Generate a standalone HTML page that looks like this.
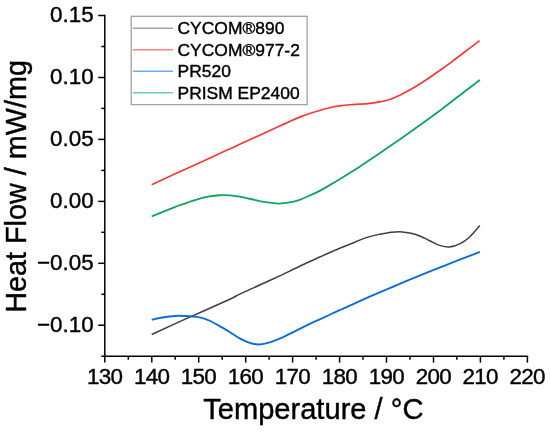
<!DOCTYPE html>
<html><head><meta charset="utf-8"><title>Heat Flow vs Temperature</title>
<style>
html,body{margin:0;padding:0;background:#fff;}
body{width:550px;height:432px;overflow:hidden;}
svg{display:block;}
text{font-family:"Liberation Sans",sans-serif;fill:#000;stroke:#000;stroke-width:0.4px;stroke-linejoin:round;}
.tl{font-size:22.4px;}
.xl{letter-spacing:-0.7px;}
.at{font-size:29.3px;}
.lg{font-size:17.2px;}
</style></head><body>
<svg width="550" height="432" viewBox="0 0 550 432">
<rect width="550" height="432" fill="#fff"/>
<g fill="none" stroke-linecap="butt" stroke-linejoin="round" transform="translate(-0.3,0.35)">
<path d="M152.0,334.1C158.3,331.2 177.2,322.6 190.0,316.8C202.8,311.1 220.2,303.4 228.5,299.6C236.8,295.8 234.8,296.3 240.0,293.8C245.2,291.3 253.3,287.8 260.0,284.7C266.7,281.6 273.3,278.6 280.0,275.5C286.7,272.4 293.3,269.0 300.0,265.9C306.7,262.8 313.3,259.7 320.0,256.7C326.7,253.7 335.0,250.0 340.0,247.9C345.0,245.8 346.7,245.2 350.0,243.9C353.3,242.6 356.7,241.1 360.0,239.8C363.3,238.5 366.7,237.3 370.0,236.3C373.3,235.3 376.7,234.6 380.0,233.9C383.3,233.2 386.7,232.5 390.0,232.1C393.3,231.7 396.7,231.2 400.0,231.3C403.3,231.4 406.7,232.0 410.0,232.7C413.3,233.4 416.7,234.3 420.0,235.6C423.3,236.9 426.7,238.8 430.0,240.4C433.3,242.0 436.7,244.0 440.0,245.0C443.3,246.0 446.3,246.8 449.6,246.6C452.9,246.4 456.6,245.3 460.0,243.6C463.4,241.9 466.6,239.7 470.0,236.6C473.4,233.5 478.5,227.1 480.2,225.2" stroke="#3f3f3f" stroke-width="1.5"/>
<path d="M152.0,184.3C158.3,181.4 177.5,172.6 190.0,166.9C202.5,161.2 218.7,153.8 227.0,150.0C235.3,146.2 234.5,146.4 240.0,143.9C245.5,141.4 253.3,137.8 260.0,134.8C266.7,131.8 275.0,128.0 280.0,125.7C285.0,123.4 286.7,122.7 290.0,121.2C293.3,119.7 296.7,118.2 300.0,116.8C303.3,115.4 306.7,114.2 310.0,113.1C313.3,112.0 316.7,111.0 320.0,110.1C323.3,109.1 326.7,108.2 330.0,107.4C333.3,106.7 336.7,106.1 340.0,105.6C343.3,105.1 346.7,104.7 350.0,104.4C353.3,104.1 356.7,104.0 360.0,103.8C363.3,103.6 366.7,103.4 370.0,103.0C373.3,102.6 376.7,102.2 380.0,101.5C383.3,100.8 386.7,100.2 390.0,99.1C393.3,98.0 396.7,96.4 400.0,94.8C403.3,93.2 406.7,91.5 410.0,89.7C413.3,87.9 416.7,85.8 420.0,83.7C423.3,81.6 426.7,79.5 430.0,77.2C433.3,74.9 436.7,72.5 440.0,70.1C443.3,67.7 446.7,65.5 450.0,63.0C453.3,60.5 456.7,57.9 460.0,55.4C463.3,52.9 466.7,50.3 470.0,47.8C473.3,45.3 478.2,41.5 479.9,40.2" stroke="#F23A3A" stroke-width="1.7"/>
<path d="M152.0,319.5C153.3,319.2 157.0,318.2 160.0,317.6C163.0,317.0 166.7,316.5 170.0,316.1C173.3,315.7 176.7,315.4 180.0,315.4C183.3,315.4 186.7,315.6 190.0,315.9C193.3,316.2 196.7,316.2 200.0,317.0C203.3,317.8 206.7,318.9 210.0,320.4C213.3,321.9 216.7,323.9 220.0,325.8C223.3,327.7 226.7,329.6 230.0,331.7C233.3,333.8 236.7,336.3 240.0,338.1C243.3,339.9 246.8,341.6 250.0,342.6C253.2,343.6 256.2,344.2 259.5,344.1C262.8,344.0 266.6,343.1 270.0,342.1C273.4,341.1 276.7,339.7 280.0,338.3C283.3,336.9 286.7,335.1 290.0,333.5C293.3,331.9 296.7,330.1 300.0,328.5C303.3,326.9 306.7,325.2 310.0,323.6C313.3,322.0 316.7,320.5 320.0,319.0C323.3,317.5 326.7,315.9 330.0,314.4C333.3,312.9 336.7,311.3 340.0,309.8C343.3,308.3 345.0,307.6 350.0,305.3C355.0,303.1 363.3,299.2 370.0,296.3C376.7,293.4 383.3,290.6 390.0,287.8C396.7,285.0 400.8,283.1 410.0,279.3C419.2,275.5 433.3,269.8 445.0,265.2C456.7,260.6 474.3,253.9 480.2,251.6" stroke="#0B6DD8" stroke-width="1.9"/>
<path d="M152.0,216.1C154.2,215.2 161.2,212.3 165.0,210.7C168.8,209.1 171.7,207.9 175.0,206.7C178.3,205.4 182.5,204.1 185.0,203.2C187.5,202.3 187.5,202.2 190.0,201.4C192.5,200.6 196.7,199.1 200.0,198.2C203.3,197.3 206.7,196.6 210.0,196.0C213.3,195.4 216.7,195.1 220.0,194.9C223.3,194.8 226.7,194.9 230.0,195.1C233.3,195.3 236.7,195.8 240.0,196.3C243.3,196.9 246.7,197.7 250.0,198.4C253.3,199.1 256.7,200.0 260.0,200.7C263.3,201.3 266.8,201.9 270.0,202.3C273.2,202.7 275.7,203.2 279.0,203.2C282.3,203.1 286.5,202.6 290.0,202.0C293.5,201.4 296.7,200.6 300.0,199.5C303.3,198.4 306.7,196.7 310.0,195.2C313.3,193.7 316.7,192.2 320.0,190.5C323.3,188.8 326.7,186.7 330.0,184.8C333.3,182.9 336.7,180.9 340.0,178.9C343.3,176.9 346.7,174.8 350.0,172.7C353.3,170.6 355.0,169.7 360.0,166.4C365.0,163.1 373.3,157.3 380.0,152.8C386.7,148.3 393.3,143.8 400.0,139.2C406.7,134.5 413.3,129.7 420.0,124.9C426.7,120.1 432.9,115.7 440.0,110.4C447.1,105.1 456.1,98.0 462.8,92.9C469.5,87.8 477.3,81.8 480.2,79.6" stroke="#12A35F" stroke-width="1.8"/>
</g>
<g stroke="#000" stroke-width="1.5" fill="none">
<line x1="104.8" y1="14.7" x2="104.8" y2="357.0"/>
<line x1="104.0" y1="356.2" x2="528.15" y2="356.2"/>
<line x1="104.8" y1="356.2" x2="104.8" y2="362.59999999999997"/>
<line x1="128.3" y1="356.2" x2="128.3" y2="359.7"/>
<line x1="151.8" y1="356.2" x2="151.8" y2="362.59999999999997"/>
<line x1="175.2" y1="356.2" x2="175.2" y2="359.7"/>
<line x1="198.7" y1="356.2" x2="198.7" y2="362.59999999999997"/>
<line x1="222.2" y1="356.2" x2="222.2" y2="359.7"/>
<line x1="245.7" y1="356.2" x2="245.7" y2="362.59999999999997"/>
<line x1="269.1" y1="356.2" x2="269.1" y2="359.7"/>
<line x1="292.6" y1="356.2" x2="292.6" y2="362.59999999999997"/>
<line x1="316.1" y1="356.2" x2="316.1" y2="359.7"/>
<line x1="339.6" y1="356.2" x2="339.6" y2="362.59999999999997"/>
<line x1="363.0" y1="356.2" x2="363.0" y2="359.7"/>
<line x1="386.5" y1="356.2" x2="386.5" y2="362.59999999999997"/>
<line x1="410.0" y1="356.2" x2="410.0" y2="359.7"/>
<line x1="433.5" y1="356.2" x2="433.5" y2="362.59999999999997"/>
<line x1="456.9" y1="356.2" x2="456.9" y2="359.7"/>
<line x1="480.4" y1="356.2" x2="480.4" y2="362.59999999999997"/>
<line x1="503.9" y1="356.2" x2="503.9" y2="359.7"/>
<line x1="527.4" y1="356.2" x2="527.4" y2="362.59999999999997"/>
<line x1="98.2" y1="15.5" x2="104.8" y2="15.5"/>
<line x1="101.3" y1="46.5" x2="104.8" y2="46.5"/>
<line x1="98.2" y1="77.5" x2="104.8" y2="77.5"/>
<line x1="101.3" y1="108.4" x2="104.8" y2="108.4"/>
<line x1="98.2" y1="139.4" x2="104.8" y2="139.4"/>
<line x1="101.3" y1="170.4" x2="104.8" y2="170.4"/>
<line x1="98.2" y1="201.4" x2="104.8" y2="201.4"/>
<line x1="101.3" y1="232.3" x2="104.8" y2="232.3"/>
<line x1="98.2" y1="263.3" x2="104.8" y2="263.3"/>
<line x1="101.3" y1="294.3" x2="104.8" y2="294.3"/>
<line x1="98.2" y1="325.2" x2="104.8" y2="325.2"/>
<line x1="101.3" y1="356.2" x2="104.8" y2="356.2"/>
</g>
<text class="tl" x="93.6" y="22.3" text-anchor="end">0.15</text>
<text class="tl" x="93.6" y="84.2" text-anchor="end">0.10</text>
<text class="tl" x="93.6" y="146.2" text-anchor="end">0.05</text>
<text class="tl" x="93.6" y="208.2" text-anchor="end">0.00</text>
<text class="tl" x="93.6" y="270.1" text-anchor="end">−0.05</text>
<text class="tl" x="93.6" y="332.1" text-anchor="end">−0.10</text>
<text class="tl xl" x="104.6" y="384.1" text-anchor="middle">130</text>
<text class="tl xl" x="151.6" y="384.1" text-anchor="middle">140</text>
<text class="tl xl" x="198.5" y="384.1" text-anchor="middle">150</text>
<text class="tl xl" x="245.5" y="384.1" text-anchor="middle">160</text>
<text class="tl xl" x="292.4" y="384.1" text-anchor="middle">170</text>
<text class="tl xl" x="339.4" y="384.1" text-anchor="middle">180</text>
<text class="tl xl" x="386.3" y="384.1" text-anchor="middle">190</text>
<text class="tl xl" x="433.3" y="384.1" text-anchor="middle">200</text>
<text class="tl xl" x="480.2" y="384.1" text-anchor="middle">210</text>
<text class="tl xl" x="527.1" y="384.1" text-anchor="middle">220</text>
<text class="at" x="313.3" y="419.3" text-anchor="middle" style="font-size:29.1px">Temperature / °C</text>
<text class="at" transform="translate(25.9,186.4) rotate(-90)" text-anchor="middle" style="font-size:28.8px">Heat Flow / mW/mg</text>
<rect x="131.2" y="16.3" width="175.9" height="88.3" fill="#fff" stroke="#a0a0a0" stroke-width="1.3"/>
<line x1="132.8" y1="28.2" x2="172.9" y2="28.2" stroke="#a0a0a0" stroke-width="1.4"/>
<text class="lg" transform="translate(177.5,34.1) scale(1.015,1)">CYCOM®890</text>
<line x1="132.8" y1="49.7" x2="172.9" y2="49.7" stroke="#ff8585" stroke-width="1.4"/>
<text class="lg" transform="translate(177.5,55.6) scale(1.015,1)">CYCOM®977-2</text>
<line x1="132.8" y1="71.2" x2="172.9" y2="71.2" stroke="#68acf5" stroke-width="1.4"/>
<text class="lg" transform="translate(177.5,77.1) scale(1.015,1)">PR520</text>
<line x1="132.8" y1="92.7" x2="172.9" y2="92.7" stroke="#6dcfa3" stroke-width="1.4"/>
<text class="lg" transform="translate(177.5,98.6) scale(1.015,1)">PRISM EP2400</text>
</svg>
</body></html>
